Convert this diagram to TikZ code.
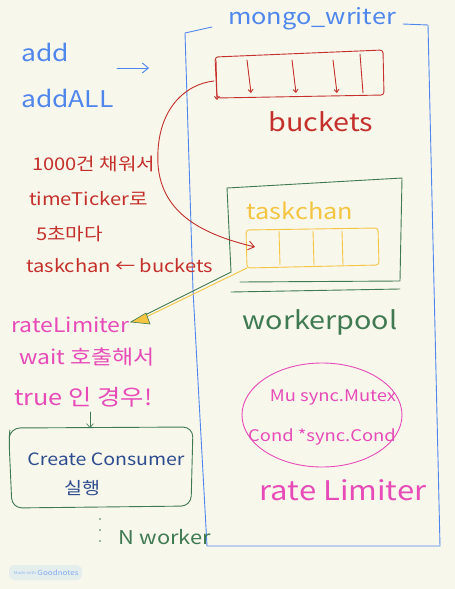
\documentclass[tikz,border=0pt]{standalone}
\usepackage{fontspec}
\setmainfont[FakeStretch=1.15]{Noto Sans CJK KR}
\usetikzlibrary{arrows.meta}
\definecolor{paper}{HTML}{F8F7EC}
\definecolor{penblue}{HTML}{4F86EC}
\definecolor{penred}{HTML}{C4302B}
\definecolor{pengreen}{HTML}{3F7A52}
\definecolor{penyellow}{HTML}{F4C542}
\definecolor{penpink}{HTML}{E64BB8}
\definecolor{pennavy}{HTML}{2C4C8E}
\definecolor{badge}{HTML}{E4EEEC}
\newcommand{\fs}[1]{\fontsize{#1}{#1}\selectfont}
\tikzset{
	hand/.style={inner sep=0pt, font=\fs{18}},
	handl/.style={hand, anchor=west},
	pen/.style={line width=0.9pt, line cap=round, line join=round}
}

\begin{document}
\begin{tikzpicture}[x=1pt,y=-1pt]
	\fill[paper] (0,0) rectangle (455,589);
	\useasboundingbox (0,0) rectangle (455,589);

	% mongo_writer frame
	\node[hand, text=penblue, font=\fs{22}] (title) at (312,19) {mongo\_writer};
	\draw[pen, penblue] (212,27) -- (185,33) -- (193,290) -- (207,546) -- (440,546) -- (428,25) -- (403,24);

	\node[handl, text=penblue, font=\fs{23}] (add) at (21,52) {add};
	\node[handl, text=penblue, font=\fs{23}] (addall) at (21,98) {addALL};
	\coordinate (ain) at (117,68);
	\coordinate (aout) at (149,68);
	\draw[pen, penblue, -{Straight Barb[length=6pt,width=10pt]}] (ain) -- (aout);

	% buckets
	\draw[pen, penred, rounded corners=3pt] (215,57) -- (383,50) -- (384,95) -- (217,98) -- cycle;
	\foreach \x in {247,292,333} {
		\draw[pen, penred, -{Straight Barb[length=3pt,width=5pt]}] (\x,60) -- (\x+4,93);
	}
	\draw[pen, penred] (360,54) -- (363,93);
	\draw[pen, penred, -{Straight Barb[length=3pt,width=5pt]}] (216,60) -- (217,100);
	\node[hand, text=penred, font=\fs{25}] (buckets) at (321,122) {buckets};

	\node[handl, text=penred, font=\fs{17.5}] (fill) at (32,164) {1000건 채워서};
	\node[handl, text=penred, font=\fs{17.5}] (ticker) at (29,199) {timeTicker로};
	\node[handl, text=penred, font=\fs{17.5}] (every) at (36,234) {5초마다};
	\node[handl, text=penred, font=\fs{17.5}] (move) at (26,266) {taskchan ← buckets};

	% workerpool
	\draw[pen, pengreen] (227,188) -- (402,178) -- (400,281) -- (240,282);
	\draw[pen, pengreen] (227,188) -- (231,272);
	\draw[pen, pengreen] (231,292) -- (400,289);
	\node[hand, text=penyellow, font=\fs{22}] (taskchan) at (300,211) {taskchan};
	\draw[pen, penyellow, rounded corners=3pt] (246,230) -- (378,228) -- (379,265) -- (247,268) -- cycle;
	\foreach \x in {279,313,342} {
		\draw[pen, penyellow] (\x,231) -- (\x+1,265);
	}
	\node[hand, text=pengreen, font=\fs{25}] (pool) at (320,322) {workerpool};

	% red curve buckets -> taskchan
	\coordinate (rfrom) at (214,81);
	\coordinate (rto) at (255,247);
	\draw[pen, penred, -{Straight Barb[length=6pt,width=9pt]}] (rfrom) .. controls (185,84) and (155,110) .. (158,165) .. controls (162,215) and (205,235) .. (rto);

	% taskchan -> rateLimiter
	\coordinate (gfrom) at (231,272);
	\coordinate (yfrom) at (247,268);
	\coordinate (tip) at (131,322);
	\draw[pen, pengreen] (gfrom) -- (tip);
	\draw[pen, penyellow] (yfrom) -- (140,320);
	\fill[penyellow, draw=pengreen, line width=0.6pt] (tip) -- (146,313) -- (150,324) -- cycle;

	\node[handl, text=penpink, font=\fs{20}] (rl) at (11,325) {rateLimiter};
	\node[handl, text=penpink, font=\fs{20}] (wait) at (19,357) {wait 호출해서};
	\node[handl, text=penpink, font=\fs{22}] (true) at (14,397) {true 인 경우!};

	\coordinate (dfrom) at (90,412);
	\coordinate (dto) at (90,428);
	\draw[pen, pengreen, line width=0.6pt, -{Straight Barb[length=4pt,width=7pt]}] (dfrom) -- (dto);

	% consumer box
	\draw[pen, pengreen, rounded corners=10pt] (9,440) -- (10,428) -- (193,427) -- (191,506) -- (12,508) -- cycle;
	\node[hand, text=pennavy, font=\fs{17}] (create) at (106,459) {Create Consumer};
	\node[hand, text=pennavy, font=\fs{17}] (run) at (82,488) {실행};

	\foreach \y in {519,530,541} {
		\fill[pengreen] (100,\y) circle (0.9pt);
	}
	\node[hand, text=pengreen, font=\fs{19}] (nw) at (165,537) {N worker};

	% rate limiter
	\draw[pen, penpink] (322,415) ellipse (80pt and 52pt);
	\node[hand, text=penpink, font=\fs{16}] (mu) at (333,398) {Mu sync.Mutex};
	\node[hand, text=penpink, font=\fs{16}] (cond) at (322,437) {Cond *sync.Cond};
	\node[hand, text=penpink, font=\fs{27}] (rlim) at (343,490) {rate Limiter};

	% badge
	\fill[badge, rounded corners=6pt] (9,565) rectangle (82,580);
	\node[inner sep=0pt, text=penblue!60, font=\fs{4}] (made) at (25,572.5) {Made with};
	\node[inner sep=0pt, text=penblue!70, font=\fs{7}] (gn) at (58,572.5) {Goodnotes};
\end{tikzpicture}
\end{document}
